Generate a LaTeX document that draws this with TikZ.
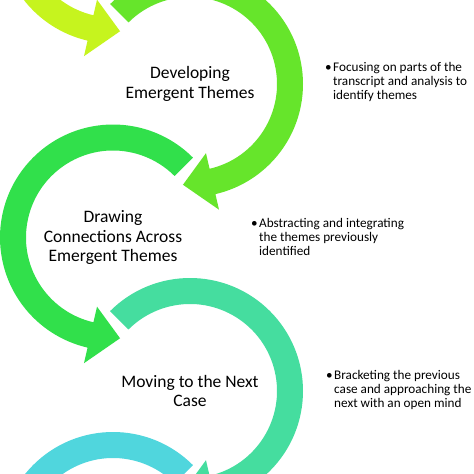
\documentclass[tikz,border=0pt]{standalone}
\usepackage{fontspec}
\setmainfont{Carlito}
\usepackage{tikz}
\usetikzlibrary{positioning}

\definecolor{limeband}{RGB}{198,244,30}
\definecolor{devband}{RGB}{102,229,43}
\definecolor{drawband}{RGB}{49,224,75}
\definecolor{tealband}{RGB}{69,221,159}
\definecolor{cyanband}{RGB}{80,214,221}

\begin{document}
\begin{tikzpicture}[
    x=1pt, y=1pt,
    stage/.style={
        align=center,
        inner sep=0pt,
        font=\fontsize{17.5}{19.5}\selectfont
    },
    note/.style={
        anchor=base west,
        inner sep=0pt,
        font=\fontsize{13.2}{14}\selectfont
    }
]
\fill[white] (0,0) rectangle (474,-474);
\useasboundingbox (0,0) rectangle (474,-474);

\coordinate (before) at (113,69.5);
\node[stage] (develop) at (190,-84) {Developing\\Emergent Themes};
\node[stage] (connect) at (113,-237.5) {Drawing\\Connections Across\\Emergent Themes};
\node[stage] (nextcase) at (190,-391) {Moving to the Next\\Case};
\coordinate (after) at (113,-545);

% arrows turning counter-clockwise (left side)
\fill[limeband] ([shift={(45:113)}]before) arc[start angle=45, end angle=257, radius=113]
    -- ([shift={(257:129)}]before) -- ([shift={(274:101)}]before)
    -- ([shift={(257:71)}]before) -- ([shift={(257:87)}]before)
    arc[start angle=257, end angle=45, radius=87] -- cycle;
\fill[drawband] ([shift={(45:113)}]connect.center) arc[start angle=45, end angle=257, radius=113]
    -- ([shift={(257:129)}]connect.center) -- ([shift={(274:101)}]connect.center)
    -- ([shift={(257:71)}]connect.center) -- ([shift={(257:87)}]connect.center)
    arc[start angle=257, end angle=45, radius=87] -- cycle;
\fill[cyanband] ([shift={(45:113)}]after) arc[start angle=45, end angle=257, radius=113]
    -- ([shift={(257:129)}]after) -- ([shift={(274:101)}]after)
    -- ([shift={(257:71)}]after) -- ([shift={(257:87)}]after)
    arc[start angle=257, end angle=45, radius=87] -- cycle;

% arrows turning clockwise (right side)
\fill[devband] ([shift={(135:113)}]develop.center) arc[start angle=135, end angle=-77, radius=113]
    -- ([shift={(-77:129)}]develop.center) -- ([shift={(-94:101)}]develop.center)
    -- ([shift={(-77:71)}]develop.center) -- ([shift={(-77:87)}]develop.center)
    arc[start angle=-77, end angle=135, radius=87] -- cycle;
\fill[tealband] ([shift={(135:113)}]nextcase.center) arc[start angle=135, end angle=-77, radius=113]
    -- ([shift={(-77:129)}]nextcase.center) -- ([shift={(-94:101)}]nextcase.center)
    -- ([shift={(-77:71)}]nextcase.center) -- ([shift={(-77:87)}]nextcase.center)
    arc[start angle=-77, end angle=135, radius=87] -- cycle;

\node[note] (focus) at (325,-71) {\begin{tabular}[t]{@{}l@{}l@{}}
    \makebox[8pt][l]{\textbullet} & Focusing on parts of the\\
    & transcript and analysis to\\
    & identify themes
\end{tabular}};
\node[note] (abstract) at (251,-227) {\begin{tabular}[t]{@{}l@{}l@{}}
    \makebox[8pt][l]{\textbullet} & Abstracting and integrating\\
    & the themes previously\\
    & identified
\end{tabular}};
\node[note] (bracket) at (326,-379) {\begin{tabular}[t]{@{}l@{}l@{}}
    \makebox[8pt][l]{\textbullet} & Bracketing the previous\\
    & case and approaching the\\
    & next with an open mind
\end{tabular}};

\end{tikzpicture}
\end{document}
